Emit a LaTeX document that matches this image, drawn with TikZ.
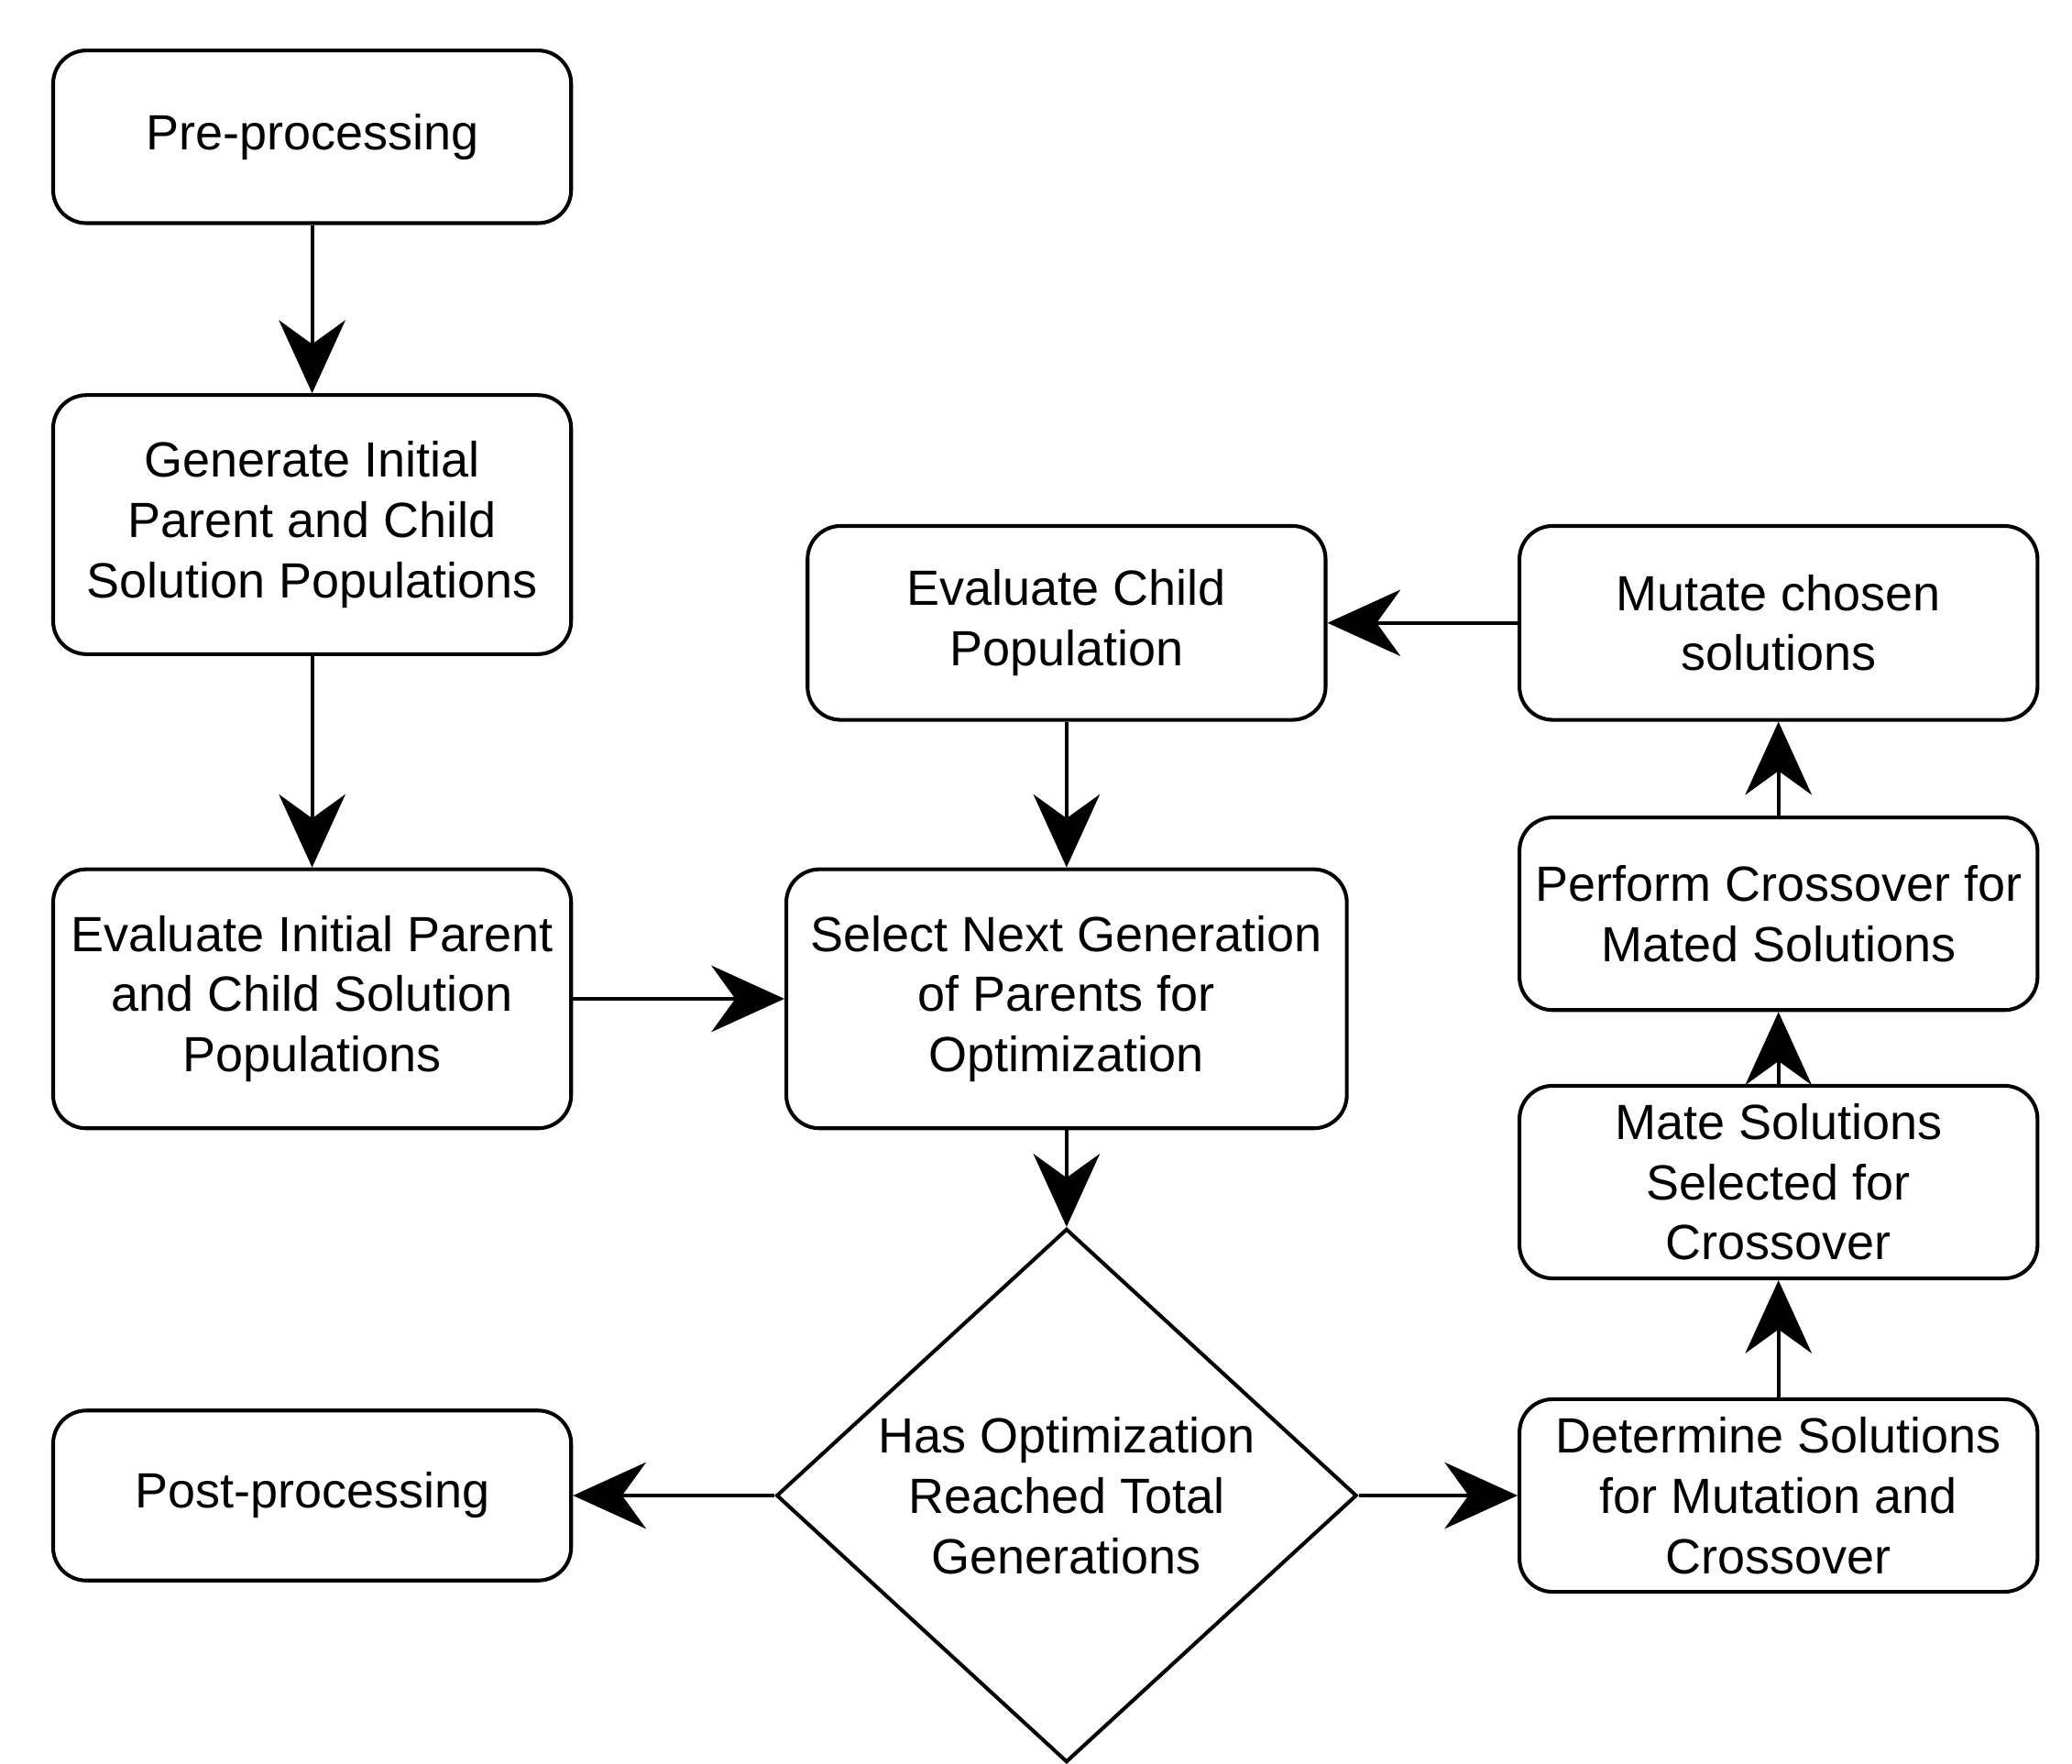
\documentclass[tikz,border=0pt]{standalone}
\usepackage{fontspec}
\setmainfont{Liberation Sans}
\usetikzlibrary{arrows.meta,shapes.geometric}
\begin{document}
\begin{tikzpicture}[x=1cm,y=1cm,
  box/.style={draw,line width=0.8pt,rounded corners=0.25cm,align=center,inner sep=0pt,
    font=\fontsize{10.6pt}{12.9pt}\selectfont},
  dia/.style={draw,line width=0.8pt,diamond,align=center,inner sep=0pt,
    font=\fontsize{10.6pt}{12.9pt}\selectfont},
  arr/.style={line width=0.8pt,-{Stealth[length=0.55cm,width=0.5cm,inset=0.18cm]}}]
\useasboundingbox (0,0) rectangle (15.6,-13.275);
\node[box,minimum width=3.9cm,minimum height=1.3cm] (pre) at (2.35,-1.03) {Pre-processing};
\node[box,minimum width=3.9cm,minimum height=1.95cm] (gen) at (2.35,-3.95) {Generate Initial\\Parent and Child\\Solution Populations};
\node[box,minimum width=3.9cm,minimum height=1.95cm] (evi) at (2.35,-7.52) {Evaluate Initial Parent\\and Child Solution\\Populations};
\node[box,minimum width=3.9cm,minimum height=1.46cm] (evc) at (8.03,-4.69) {Evaluate Child\\Population};
\node[box,minimum width=4.22cm,minimum height=1.95cm] (sel) at (8.03,-7.52) {Select Next Generation\\of Parents for\\Optimization};
\node[dia,minimum width=4.37cm,minimum height=3.58cm] (has) at (8.03,-11.26) {Has Optimization\\Reached Total\\Generations};
\node[box,minimum width=3.9cm,minimum height=1.28cm] (post) at (2.35,-11.26) {Post-processing};
\node[box,minimum width=3.9cm,minimum height=1.46cm] (mut) at (13.39,-4.69) {Mutate chosen\\solutions};
\node[box,minimum width=3.9cm,minimum height=1.45cm] (per) at (13.39,-6.88) {Perform Crossover for\\Mated Solutions};
\node[box,minimum width=3.9cm,minimum height=1.45cm] (mate) at (13.39,-8.90) {Mate Solutions\\Selected for\\Crossover};
\node[box,minimum width=3.9cm,minimum height=1.45cm] (det) at (13.39,-11.26) {Determine Solutions\\for Mutation and\\Crossover};
\draw[arr] (pre) -- (gen);
\draw[arr] (gen) -- (evi);
\draw[arr] (evi) -- (sel);
\draw[arr] (evc) -- (sel);
\draw[arr] (sel) -- (has);
\draw[arr] (has) -- (post);
\draw[arr] (has) -- (det);
\draw[arr] (det) -- (mate);
\draw[arr] (mate) -- (per);
\draw[arr] (per) -- (mut);
\draw[arr] (mut) -- (evc);
\end{tikzpicture}
\end{document}
